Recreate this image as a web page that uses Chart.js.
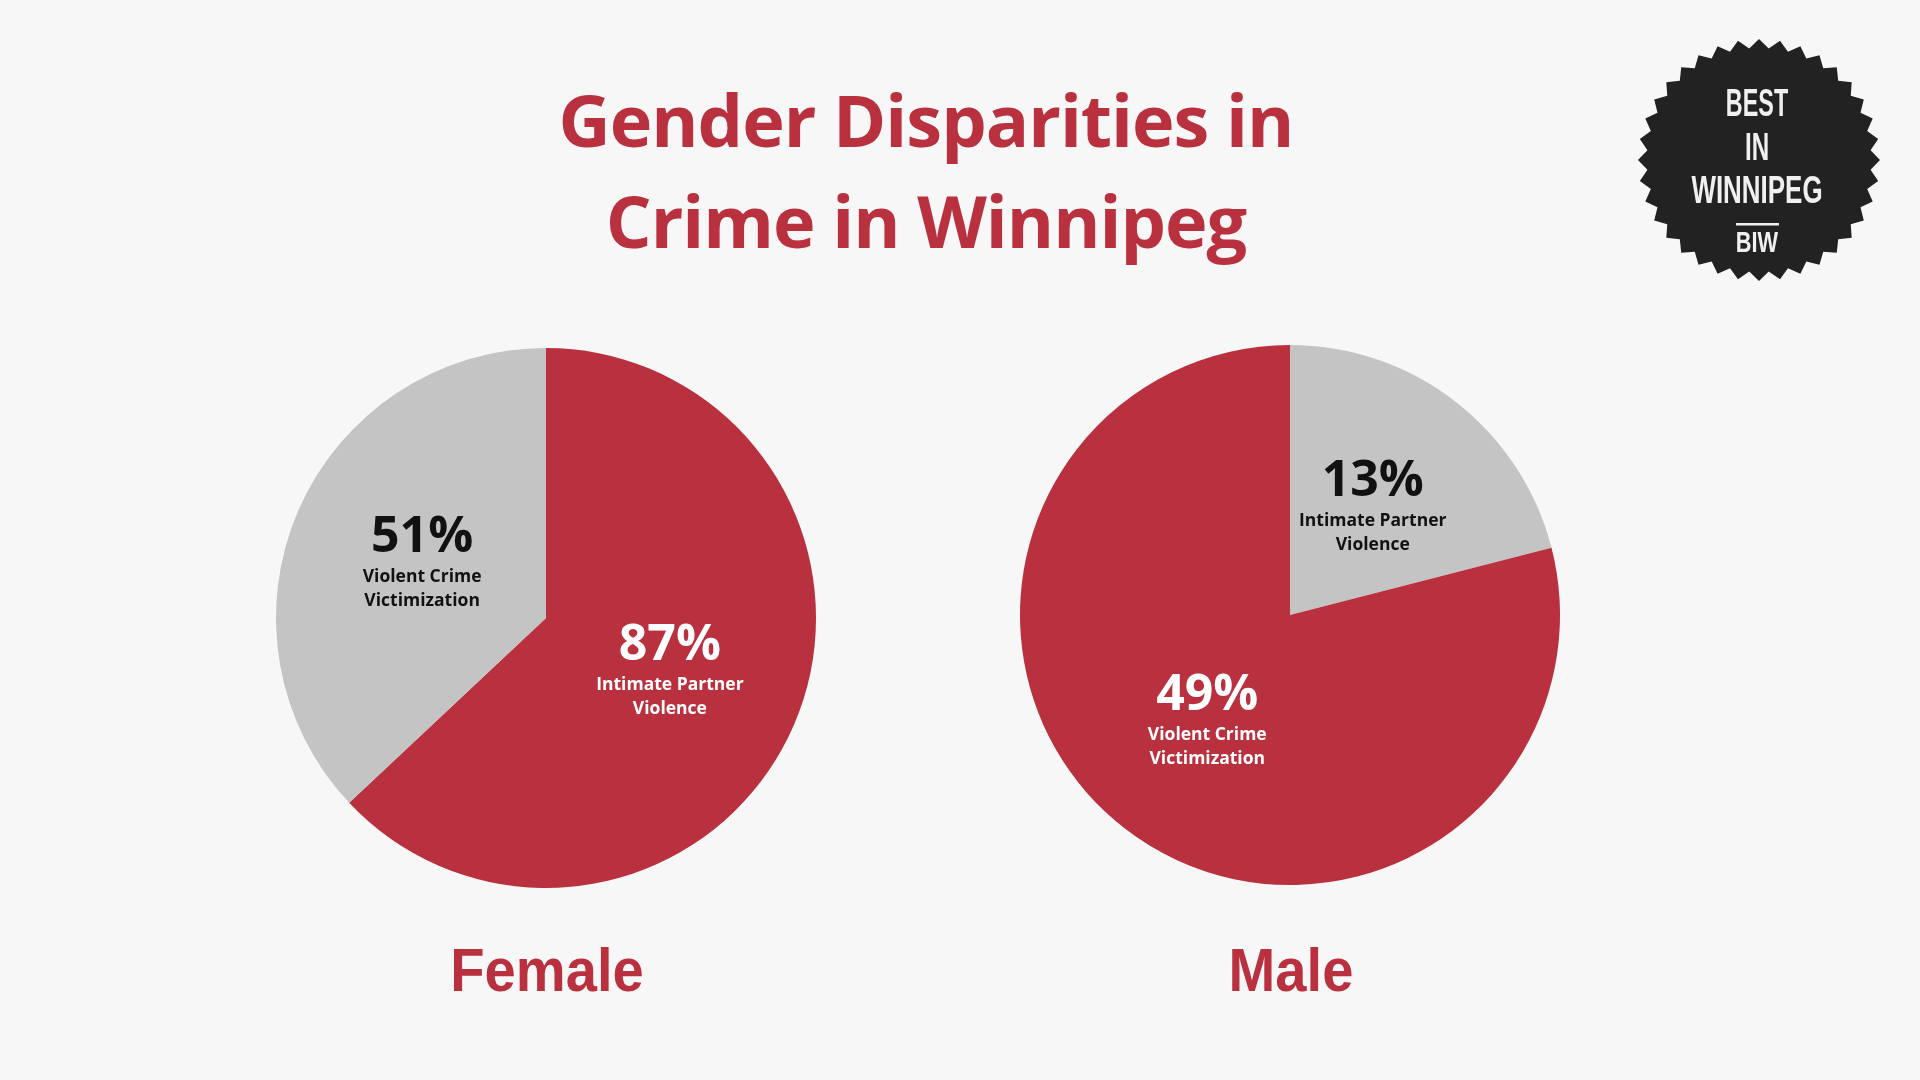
<!DOCTYPE html>
<html>
<head>
<meta charset="utf-8">
<script src="https://cdn.jsdelivr.net/npm/chart.js@4.4.1/dist/chart.umd.min.js"></script>
<style>
  html, body { margin: 0; padding: 0; }
  body {
    width: 1920px; height: 1080px; position: relative; overflow: hidden;
    background: #f7f7f7; font-family: "Open Sans", sans-serif;
  }
  .title {
    position: absolute; left: 526px; width: 800px; top: 69px;
    text-align: center; color: #b9303f; font-weight: 700;
    font-size: 72px; line-height: 101px; letter-spacing: -1px;
  }
  .pie { position: absolute; }
  .gender {
    position: absolute; width: 400px; top: 940px; text-align: center;
    font-family: "Liberation Sans", Arial, sans-serif; font-weight: 700;
    font-size: 61px; line-height: 61px; color: #b9303f;
    transform: scaleX(0.92);
  }
  #badge { position: absolute; left: 1629px; top: 30px; }
</style>
</head>
<body>
<div class="title">Gender Disparities in<br>Crime in Winnipeg</div>

<canvas id="femalePie" class="pie" width="540" height="540" style="left:276px;top:348px"></canvas>
<canvas id="malePie" class="pie" width="540" height="540" style="left:1020px;top:345px"></canvas>

<div class="gender" style="left:347px">Female</div>
<div class="gender" style="left:1091px">Male</div>

<canvas id="badge" width="260" height="260"></canvas>

<script>
// slice names (two lines each)
const femaleCategories = [["Intimate Partner", "Violence"], ["Violent Crime", "Victimization"]];
const maleCategories = [["Intimate Partner", "Violence"], ["Violent Crime", "Victimization"]];

// slice sizes as drawn in the picture (share of the circle)
const femaleShares = [63, 37];
const maleShares = [21, 79];

// percentages printed inside the slices
const femaleLabels = ["87%", "51%"];
const maleLabels = ["13%", "49%"];

const RED = "#b9303f";
const GREY = "#c4c4c4";
const femaleColors = [RED, GREY];
const maleColors = [GREY, RED];

// Draw the percentage + category text at the middle of each slice
const sliceLabels = {
  id: "sliceLabels",
  afterDatasetsDraw(chart, args, opts) {
    const ctx = chart.ctx;
    const meta = chart.getDatasetMeta(0);
    meta.data.forEach((arc, i) => {
      const { x, y } = arc.tooltipPosition();
      const bg = chart.data.datasets[0].backgroundColor[i];
      ctx.save();
      ctx.fillStyle = bg === RED ? "#ffffff" : "#111111";
      ctx.textAlign = "center";
      ctx.textBaseline = "alphabetic";
      ctx.font = "700 50px 'Open Sans'";
      ctx.fillText(opts.values[i], x, y - 12);
      ctx.font = "700 17.5px 'Open Sans'";
      const lines = chart.data.labels[i];
      ctx.fillText(lines[0], x, y + 18);
      ctx.fillText(lines[1], x, y + 42);
      ctx.restore();
    });
  },
};

function makePie(id, labels, shares, colors, values) {
  const ctx = document.getElementById(id).getContext("2d");
  return new Chart(ctx, {
    type: "pie",
    data: {
      labels: labels,
      datasets: [
        {
          data: shares,
          backgroundColor: colors,
          borderWidth: 0,
        },
      ],
    },
    options: {
      responsive: false,
      animation: false,
      devicePixelRatio: 1,
      layout: { padding: 0 },
      plugins: {
        legend: { display: false },
        tooltip: { enabled: false },
        sliceLabels: { values: values },
      },
    },
    plugins: [sliceLabels],
  });
}

makePie("femalePie", femaleCategories, femaleShares, femaleColors, femaleLabels);
makePie("malePie", maleCategories, maleShares, maleColors, maleLabels);

// "Best in Winnipeg" seal in the corner
(function drawBadge() {
  const c = document.getElementById("badge");
  const ctx = c.getContext("2d");
  const cx = 130, cy = 130, outer = 121, inner = 112, teeth = 36;
  ctx.beginPath();
  for (let k = 0; k < teeth * 2; k++) {
    const r = k % 2 === 0 ? outer : inner;
    const a = (Math.PI * k) / teeth - Math.PI / 2;
    const px = cx + r * Math.cos(a);
    const py = cy + r * Math.sin(a);
    if (k === 0) ctx.moveTo(px, py);
    else ctx.lineTo(px, py);
  }
  ctx.closePath();
  ctx.fillStyle = "#222222";
  ctx.fill();

  ctx.fillStyle = "#f0f0f0";
  ctx.textAlign = "center";
  const word = (txt, y, size, sx) => {
    ctx.save();
    ctx.translate(cx - 2, y);
    ctx.scale(sx, 1);
    ctx.font = "600 " + size + "px 'Liberation Sans'";
    ctx.fillText(txt, 0, 0);
    ctx.restore();
  };
  word("BEST", 86, 39, 0.6);
  word("IN", 130, 39, 0.62);
  word("WINNIPEG", 173, 39, 0.665);
  ctx.fillRect(107, 193, 43, 2.5);
  word("BIW", 222, 29, 0.75);
})();
</script>
</body>
</html>
